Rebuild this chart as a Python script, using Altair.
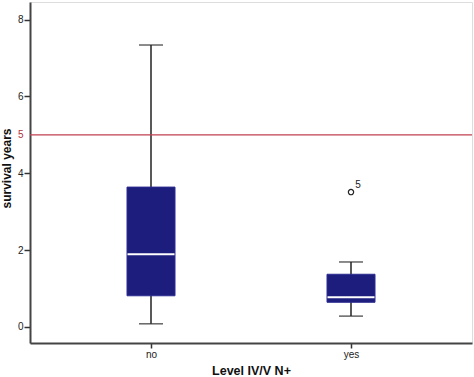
import altair as alt
import pandas as pd

groups = ["no", "yes"]
whisker_low = [0.08, 0.28]
q1 = [0.81, 0.64]
median = [1.89, 0.77]
q3 = [3.64, 1.37]
whisker_high = [7.34, 1.69]

outlier_group = ["yes"]
outlier_value = [3.51]
outlier_label = ["5"]

ref_value = [5]
y_ticks = [0, 2, 4, 5, 6, 8]

box = pd.DataFrame({"group": groups, "lo": whisker_low, "q1": q1, "med": median,
                    "q3": q3, "hi": whisker_high})
out = pd.DataFrame({"group": outlier_group, "v": outlier_value, "lab": outlier_label})
ref = pd.DataFrame({"v": ref_value})

FONT = "Liberation Sans"
xs = alt.X("group:N", scale=alt.Scale(type="point", domain=groups, padding=0.605),
           axis=alt.Axis(title="Level IV/V N+", labelAngle=0, labelFontSize=10,
                         labelColor="#222", titleFontSize=12.5, titleFontWeight="bold",
                         titleColor="#111", tickSize=5, tickColor="#333", tickWidth=1.5,
                         domainColor="#444", domainWidth=2, labelPadding=1,
                         titleBaseline="alphabetic", titleY=31, titleX=221,
                         labelFont=FONT, titleFont=FONT))
yscale = alt.Scale(domain=[-0.42, 8.46], nice=False, zero=False)
ys = alt.Y("lo:Q", scale=yscale,
           axis=alt.Axis(title="survival years", values=y_ticks, grid=False,
                         labelFontSize=10, labelFont=FONT, titleFont=FONT,
                         labelColor=alt.ExprRef("datum.value == 5 ? '#b03040' : '#222'"),
                         tickOpacity=alt.ExprRef("datum.value == 5 ? 0 : 1"),
                         tickSize=6, tickColor="#333", tickWidth=1.5,
                         domainColor="#444", domainWidth=2,
                         titleFontSize=12, titleFontWeight="bold", titleColor="#111",
                         titleBaseline="alphabetic", titleAlign="center",
                         titleX=-20, titleY=166,
                         labelPadding=1))

base = alt.Chart(box)

whisk = base.mark_rule(color="#222", strokeWidth=1.5).encode(x=xs, y=ys, y2="hi:Q")
cap_lo = base.mark_tick(color="#222", size=24, thickness=1.5).encode(x=xs, y=alt.Y("lo:Q", scale=yscale))
cap_hi = base.mark_tick(color="#222", size=24, thickness=1.5).encode(x=xs, y=alt.Y("hi:Q", scale=yscale))
boxes = base.mark_bar(size=48, color="#1d1d7d", stroke="#2c2c92", strokeWidth=1).encode(
    x=xs, y=alt.Y("q1:Q", scale=yscale), y2="q3:Q")
med = base.mark_tick(color="white", size=47, thickness=2, opacity=1).encode(
    x=xs, y=alt.Y("med:Q", scale=yscale))

refline = alt.Chart(ref).mark_rule(color="#c04050", strokeWidth=1.2).encode(
    y=alt.Y("v:Q", scale=yscale))

pts = alt.Chart(out).mark_point(shape="circle", filled=False, color="#222", size=28,
                                strokeWidth=1.2, opacity=1).encode(x=xs, y=alt.Y("v:Q", scale=yscale))
lab = alt.Chart(out).mark_text(dx=7, dy=-7, fontSize=10, font=FONT, color="#222").encode(
    x=xs, y=alt.Y("v:Q", scale=yscale), text="lab:N")

chart = alt.layer(whisk, cap_lo, cap_hi, boxes, med, refline, pts, lab).properties(
    width=442, height=341,
    padding={"left": 30, "top": 2, "right": 2, "bottom": 34},
    autosize=alt.AutoSizeParams(type="none"),
).configure_view(stroke="#888", strokeWidth=2).configure(background="white")

chart.save("out.html", embed_options={"renderer": "svg", "actions": False})
